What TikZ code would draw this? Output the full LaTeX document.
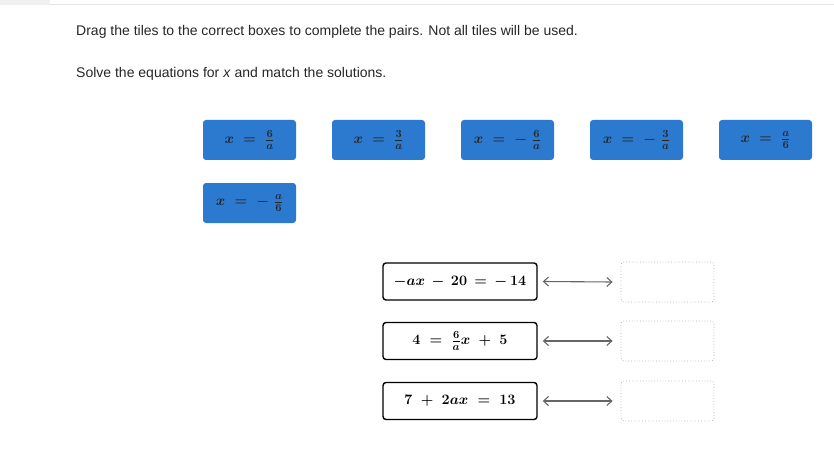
\documentclass[tikz,border=0pt]{standalone}
\usepackage[no-math]{fontspec}
\setmainfont{Liberation Sans}
\usetikzlibrary{arrows.meta}
\begin{document}
\begin{tikzpicture}[x=1pt,y=-1pt,
  tile/.style={fill=tileblue,rounded corners=3pt,minimum width=93pt,minimum height=40pt,inner sep=0pt,font=\fontsize{15}{16}\selectfont\boldmath,text=black!85},
  eqbox/.style={draw=black,line width=1.4pt,rounded corners=3pt,minimum width=154pt,minimum height=37pt,inner sep=0pt,font=\fontsize{15}{16}\selectfont\boldmath},
  slot/.style={draw=black!30,dotted,line width=0.8pt,rounded corners=3pt,minimum width=93pt,minimum height=40pt,inner sep=0pt},
  link/.style={{Straight Barb[length=5pt,width=9pt]}-{Straight Barb[length=5pt,width=9pt]},draw=black!60,line width=1.1pt},
  txt/.style={anchor=west,inner sep=0pt,font=\fontsize{14}{16}\selectfont,text=black!85}]
\definecolor{tileblue}{HTML}{2B7AD0}
\useasboundingbox (0,0) rectangle (834,449);
\fill[black!6] (0,0) rectangle (50,5);
\draw[black!10] (50,4) -- (834,4);
\node[txt] (t1) at (76,32) {Drag the tiles to the correct boxes to complete the pairs. Not all tiles will be used.};
\node[txt] (t2) at (76,74) {Solve the equations for \textit{x} and match the solutions.};
\node[tile] (a1) at (249.5,140) {$x\;=\;\frac{6}{a}$};
\node[tile] (a2) at (378.5,140) {$x\;=\;\frac{3}{a}$};
\node[tile] (a3) at (507.5,140) {$x\;=\;-\;\frac{6}{a}$};
\node[tile] (a4) at (636.5,140) {$x\;=\;-\;\frac{3}{a}$};
\node[tile] (a5) at (765.5,140) {$x\;=\;\frac{a}{6}$};
\node[tile] (a6) at (249.5,203) {$x\;=\;-\;\frac{a}{6}$};
\node[eqbox] (e1) at (460,281.5) {$-ax\,-\,20\,=\,-\,14$};
\node[eqbox] (e2) at (460,341) {$4\;=\;\frac{6}{a}x\;+\;5$};
\node[eqbox] (e3) at (460,401) {$7\;+\;2ax\;=\;13$};
\node[slot] (s1) at (667.5,282) {};
\node[slot] (s2) at (667.5,341) {};
\node[slot] (s3) at (667.5,401) {};
\foreach \i in {1,2,3}{\draw[link] ([xshift=5pt]e\i.east) -- ([xshift=-8pt]s\i.west);}
\end{tikzpicture}
\end{document}
